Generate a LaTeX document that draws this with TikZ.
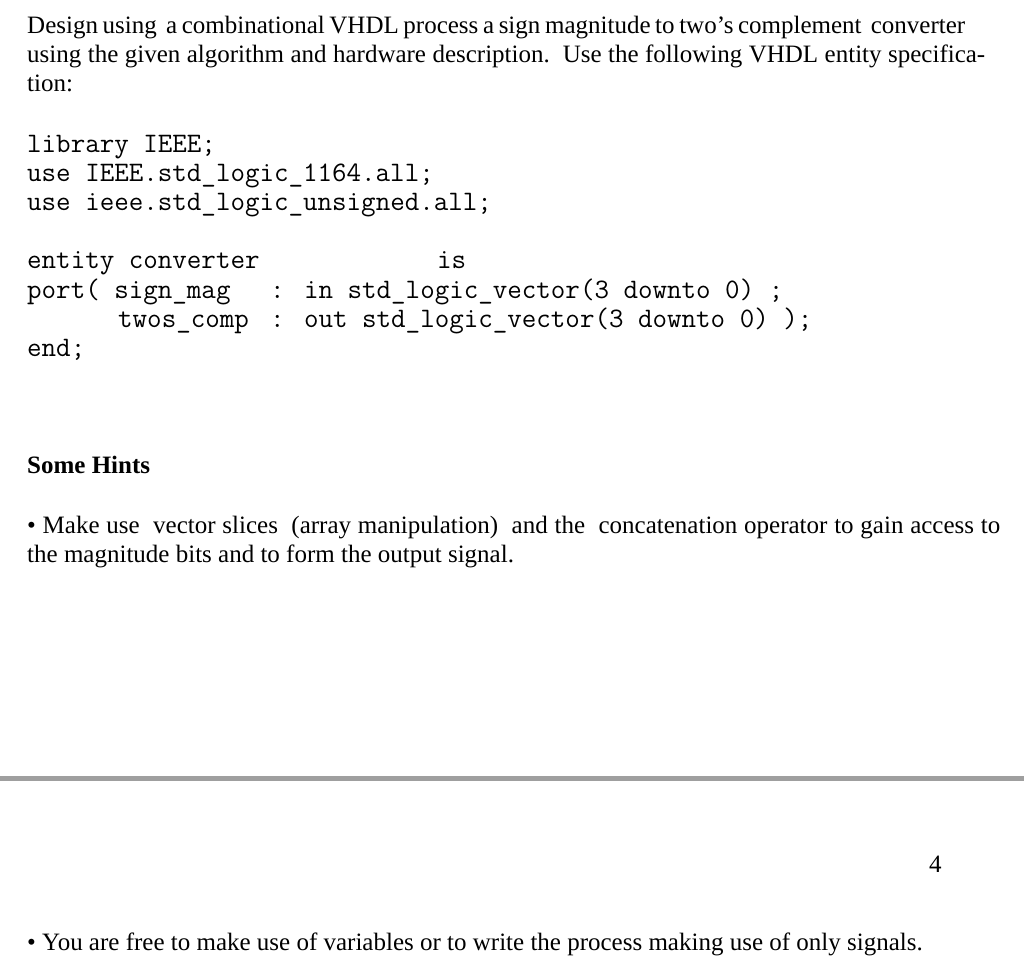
\documentclass[tikz,border=0pt]{standalone}
\usepackage{fontspec}
\setmainfont{Liberation Serif}
\begin{document}
\begin{tikzpicture}[x=1pt,y=-1pt,
  tx/.style={anchor=base west,inner sep=0pt,font=\fontsize{25}{28}\selectfont},
  cd/.style={anchor=base west,inner sep=0pt,font=\fontsize{28.2}{28}\ttfamily}]
\useasboundingbox[fill=white] (0,0) rectangle (1024,964);
\node[tx] (l1) at (27,33) {\makebox[938pt][s]{Design using\ \ a combinational VHDL process a sign magnitude to two’s complement\ \ converter}};
\node[tx] (l2) at (27,62) {\makebox[958pt][s]{using the given algorithm and hardware description.\ \ Use the following VHDL entity specifica-}};
\node[tx] (l3) at (27,91) {tion:};
\node[cd] (c1) at (27,152) {library IEEE;};
\node[cd] (c2) at (27,181) {use IEEE.std\_logic\_1164.all;};
\node[cd] (c3) at (27,210) {use ieee.std\_logic\_unsigned.all;};
\node[cd] (c4) at (27,268) {entity converter};
\node[cd] (c4b) at (437,268) {is};
\node[cd] (c5) at (27,298) {port( sign\_mag};
\node[cd] (c5b) at (270,298) {: in std\_logic\_vector(3 downto 0) ;};
\node[cd] (c6) at (118,327) {twos\_comp};
\node[cd] (c6b) at (270,327) {: out std\_logic\_vector(3 downto 0) );};
\node[cd] (c7) at (27,356) {end;};
\node[tx,font=\fontsize{25}{28}\selectfont\bfseries] (h) at (27,473) {Some Hints};
\node[tx] (b1) at (27,533) {\makebox[973pt][s]{•\ Make use\ \ vector slices\ \ (array manipulation)\ \ and the\ \ concatenation operator to gain access to}};
\node[tx] (b2) at (27,562) {the magnitude bits and to form the output signal.};
\fill[gray!75] (0,776) rectangle (1024,781);
\node[tx] (pg) at (929,872) {4};
\node[tx] (b3) at (27,950) {•\ You are free to make use of variables or to write the process making use of only signals.};
\end{tikzpicture}
\end{document}
